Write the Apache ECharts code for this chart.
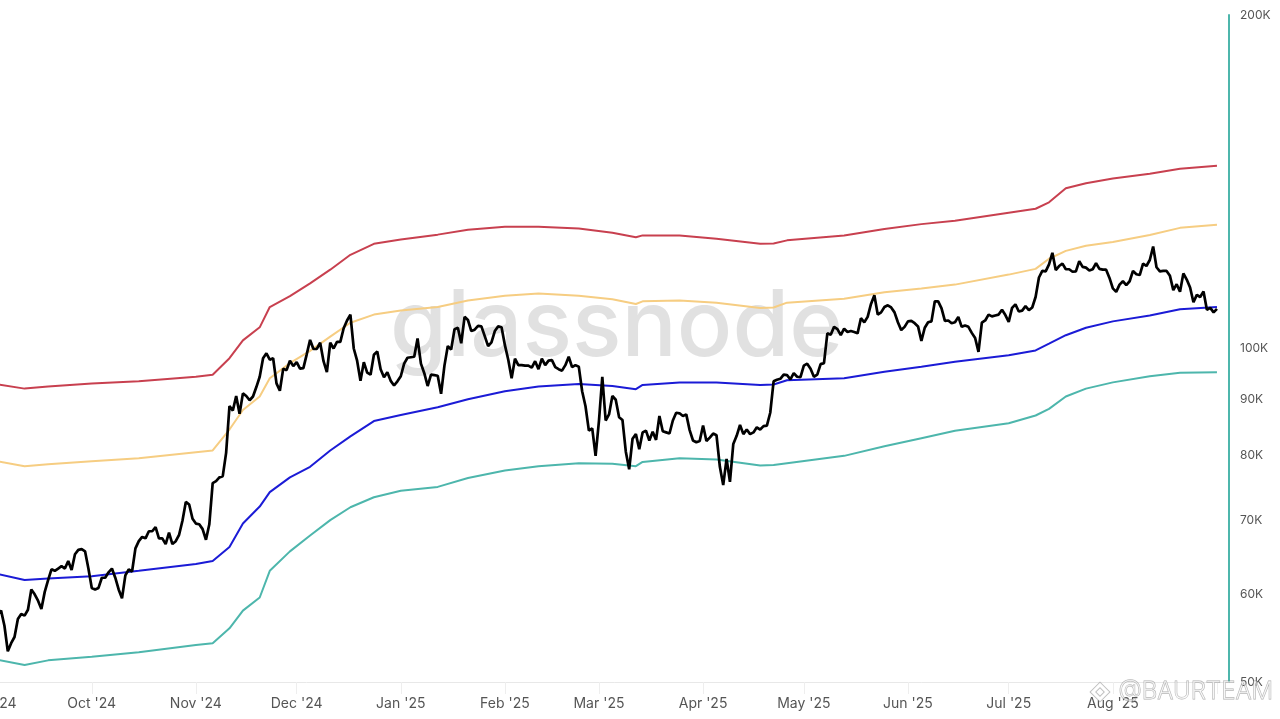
<!DOCTYPE html>
<html>
<head>
<meta charset="utf-8">
<script src="https://cdn.jsdelivr.net/npm/echarts@6/dist/echarts.min.js"></script>
<style>
html,body{margin:0;padding:0;background:#fff;}
#chart{width:1280px;height:719px;}
</style>
</head>
<body>
<div id="chart"></div>
<script>
// ---------- DATA (values in thousands of USD) ----------
// Daily BTC price, one array per month (day 1 .. end of month)
const priceSep24 = [57.3,59.1,57.5,58.0,56.2,53.3,54.2,54.9,57.0,57.6,57.4,58.1,60.6,60.0,59.2,58.2,60.3,61.8,63.2,63.0,63.3,63.6,63.3,64.3,63.1,65.2,65.8,65.9,65.6,63.3];
const priceOct24 = [60.8,60.6,60.8,62.1,62.1,62.8,63.3,62.1,60.6,59.5,62.4,63.2,62.9,66.0,67.0,67.6,67.4,68.4,68.4,69.0,67.4,67.4,66.6,68.2,66.6,67.0,67.9,69.9,72.7,72.3,70.2];
const priceNov24 = [69.5,69.4,68.7,67.2,69.4,75.6,75.9,76.5,76.7,80.5,88.7,87.9,90.6,87.3,91.1,90.6,89.8,90.5,92.3,94.3,98.0,99.0,97.7,98.0,93.0,91.6,95.9,95.6,97.5,96.4];
const priceDec24 = [97.2,95.9,96.0,98.8,101.8,99.9,99.9,101.2,97.4,95.2,101.2,100.0,101.4,101.4,104.3,106.0,107.3,100.0,97.5,93.5,97.2,95.1,94.7,98.7,99.4,95.8,94.2,95.2,93.5,92.6,93.4];
const priceJan25 = [94.4,96.9,98.1,98.2,98.3,102.1,96.9,95.0,92.5,94.7,94.6,94.5,91.0,96.5,100.5,99.8,104.1,104.4,101.1,106.8,106.1,103.7,104.0,104.8,104.7,102.6,100.5,101.3,103.7,104.7,104.5];
const priceFeb25 = [100.7,97.7,94.0,97.9,96.6,96.6,96.5,96.5,96.1,97.4,95.8,97.9,96.6,97.5,97.6,96.2,95.8,95.5,96.6,98.3,96.2,96.6,96.3,91.5,88.7,84.3,84.7,80.0];
const priceMar25 = [86.0,94.3,86.1,87.2,90.6,89.9,86.7,86.2,80.7,77.8,82.9,83.7,81.1,84.0,84.3,82.6,84.1,82.7,86.9,84.2,84.0,83.8,86.1,87.5,87.4,86.9,87.2,84.4,82.6,82.3,82.5];
const priceApr25 = [85.2,82.5,83.1,83.8,83.5,78.2,75.3,79.5,75.8,82.0,83.4,85.3,83.7,84.5,83.7,84.0,84.9,84.5,85.1,85.2,87.5,93.4,93.7,93.9,94.7,94.6,93.8,95.0,94.3,94.2];
const priceMay25 = [96.5,96.9,95.9,94.3,94.7,96.8,97.0,103.2,102.9,104.6,104.1,102.8,104.2,103.5,103.7,103.5,103.2,106.5,105.6,106.8,109.7,111.7,107.3,107.8,109.0,109.4,108.9,107.8,105.6,103.9,104.6];
const priceJun25 = [105.8,105.9,105.4,104.7,101.6,104.4,105.6,105.8,110.3,110.3,108.7,105.9,106.0,105.4,105.6,106.8,104.6,104.9,104.6,103.3,102.2,99.3,105.5,106.0,107.3,106.9,107.1,107.3,108.4,107.2];
const priceJul25 = [105.7,108.8,109.6,108.0,108.2,109.2,108.3,108.9,111.3,115.9,117.5,117.4,119.1,122.0,117.7,118.7,119.3,117.9,117.9,117.3,117.4,119.9,118.5,118.3,117.6,117.9,119.4,118.0,117.8,117.8,115.8];
const priceAug25 = [113.3,112.5,114.2,115.0,114.1,115.0,117.5,116.7,116.5,119.3,118.7,120.2,123.6,118.4,117.4,117.5,117.5,116.3,112.9,114.3,112.5,116.9,115.4,113.5,110.1,111.8,111.3,112.6,108.4,108.8,107.8];
const priceSep25 = [108.6];
const priceMonthStarts = ['2024-09','2024-10','2024-11','2024-12','2025-01','2025-02','2025-03','2025-04','2025-05','2025-06','2025-07','2025-08','2025-09'];

// Pricing bands
const bandDates  = ['2024-09-01','2024-09-11','2024-09-18','2024-10-01','2024-10-15','2024-11-01','2024-11-06','2024-11-11','2024-11-15','2024-11-20','2024-11-23','2024-11-29','2024-12-05','2024-12-11','2024-12-17','2024-12-24','2025-01-01','2025-01-12','2025-01-21','2025-02-01','2025-02-11','2025-02-23','2025-03-05','2025-03-12','2025-03-14','2025-03-25','2025-04-05','2025-04-18','2025-04-22','2025-04-26','2025-05-13','2025-05-25','2025-06-05','2025-06-15','2025-07-01','2025-07-09','2025-07-13','2025-07-18','2025-07-24','2025-08-01','2025-08-12','2025-08-21','2025-09-01'];
const bandRed    = [93.0,92.0,92.4,93.0,93.4,94.3,94.7,98.0,101.7,104.5,109.0,111.5,114.5,117.8,121.5,124.3,125.4,126.7,128.0,128.8,128.8,128.3,127.2,126.0,126.5,126.5,125.6,124.3,124.4,125.2,126.5,128.2,129.5,130.4,132.6,133.7,135.5,139.5,141.0,142.4,143.8,145.3,146.2];
const bandYellow = [79.3,78.3,78.6,79.1,79.6,80.6,80.9,84.5,88.0,90.5,94.0,97.0,99.5,102.5,105.5,107.3,108.2,109.0,110.5,111.6,112.1,111.6,110.8,109.7,110.3,110.5,110.0,108.8,108.9,110.0,110.9,112.4,113.3,114.2,116.6,118.0,120.5,122.5,123.8,124.8,126.6,128.5,129.3];
const bandBlue   = [62.8,61.8,62.0,62.3,63.0,63.9,64.3,66.2,69.5,72.0,74.2,76.5,78.2,80.9,83.3,86.0,87.1,88.5,90.0,91.5,92.4,92.9,92.5,91.9,92.7,93.2,93.2,92.7,92.8,93.6,94.0,95.3,96.3,97.3,98.6,99.6,101.0,102.8,104.4,105.8,107.1,108.5,109.0];
const bandTeal   = [52.5,51.8,52.3,52.7,53.2,54.0,54.2,55.9,58.0,59.6,63.0,65.6,67.8,70.0,71.9,73.4,74.4,75.0,76.4,77.6,78.3,78.8,78.7,78.3,79.0,79.6,79.4,78.4,78.5,78.8,80.0,81.6,83.0,84.3,85.6,87.0,88.2,90.5,92.0,93.2,94.4,95.1,95.2];

// Axis ticks
const yTickValues = [50,60,70,80,90,100,200];
const xLastLabel = '2025-08-01';
const xMin = '2024-09-01T00:00:00';
const xMax = '2025-09-04T14:00:00';
const monthNames = ['Jan','Feb','Mar','Apr','May','Jun','Jul','Aug','Sep','Oct','Nov','Dec'];

// ---------- BUILD ----------
function toTs(s){ const p = s.split('-').map(Number); return new Date(p[0], p[1]-1, p[2]||1).getTime(); }
const priceByMonth = [priceSep24,priceOct24,priceNov24,priceDec24,priceJan25,priceFeb25,priceMar25,priceApr25,priceMay25,priceJun25,priceJul25,priceAug25,priceSep25];
const priceData = [];
priceByMonth.forEach((arr, mi) => {
  const p = priceMonthStarts[mi].split('-').map(Number);
  arr.forEach((v, d) => priceData.push([new Date(p[0], p[1]-1, d+1).getTime(), v*1000]));
});
function band(arr){ return bandDates.map((d,i)=>[toTs(d), arr[i]*1000]); }
const lastLabelTs = toTs(xLastLabel);

const chart = echarts.init(document.getElementById('chart'), null, {renderer:'canvas'});
const lineBase = {type:'line', showSymbol:false, symbol:'none', animation:false, silent:true};
chart.setOption({
  animation:false,
  backgroundColor:'#ffffff',
  grid:{left:-9, right:51, top:15, bottom:37, outerBoundsMode:'none', containLabel:false},
  xAxis:{
    type:'time',
    min: new Date(xMin).getTime(),
    max: new Date(xMax).getTime(),
    splitNumber:12,
    axisLine:{show:true, lineStyle:{color:'#e8e8e8', width:1}},
    axisTick:{show:true, length:12, lineStyle:{color:'#eeeeee'}},
    axisLabel:{
      color:'#555', fontSize:14, fontFamily:'Inter, "Noto Sans", sans-serif', margin:15,
      formatter:function(v){ if (v > lastLabelTs + 86400000) return ''; const d=new Date(v); return monthNames[d.getMonth()]+" '"+String(d.getFullYear()).slice(2); }
    },
    splitLine:{show:false}
  },
  yAxis:{
    type:'log', logBase:10, position:'right',
    min:50000, max:200000,
    axisLine:{show:true, lineStyle:{color:'#4db6ac', width:2}},
    axisTick:{show:false},
    splitLine:{show:false},
    axisLabel:{
      color:'#555', fontSize:12, fontFamily:'Inter, "Noto Sans", sans-serif', margin:11,
      customValues: yTickValues.map(v=>v*1000),
      formatter:function(v){ return Math.round(v/1000)+'K'; }
    }
  },
  graphic:[
    {type:'text', left:390, top:282, z:0, silent:true,
     style:{text:'glassnode', font:'500 92px Inter, "Noto Sans", sans-serif', fill:'rgba(205,205,205,0.6)'}},
    {type:'rect', x:1100, y:692, rotation:Math.PI/4, z:100, silent:true,
     shape:{x:-7, y:-7, width:14, height:14},
     style:{fill:'rgba(255,255,255,0.4)', stroke:'rgba(150,150,150,0.6)', lineWidth:1}},
    {type:'rect', x:1100, y:692, rotation:Math.PI/4, z:100, silent:true,
     shape:{x:-3, y:-3, width:6, height:6},
     style:{fill:'none', stroke:'rgba(150,150,150,0.6)', lineWidth:1}},
    {type:'text', left:1118, top:679, z:100, silent:true,
     style:{text:'@BAURTEAM', font:'300 24px Inter, "Noto Sans", sans-serif', fill:'rgba(255,255,255,0.5)', stroke:'rgba(140,140,140,0.7)', lineWidth:0.8}}
  ],
  series:[
    Object.assign({}, lineBase, {name:'Lower', data:band(bandTeal), lineStyle:{color:'#4db6ac', width:2}, z:2}),
    Object.assign({}, lineBase, {name:'Mid', data:band(bandBlue), lineStyle:{color:'#1b1bd6', width:2}, z:2}),
    Object.assign({}, lineBase, {name:'Upper 1', data:band(bandYellow), lineStyle:{color:'#f6cd82', width:2}, z:2}),
    Object.assign({}, lineBase, {name:'Upper 2', data:band(bandRed), lineStyle:{color:'#c8404f', width:2}, z:2}),
    Object.assign({}, lineBase, {name:'Price', data:priceData, lineStyle:{color:'#000000', width:2.7}, z:3})
  ]
});
</script>
</body>
</html>
